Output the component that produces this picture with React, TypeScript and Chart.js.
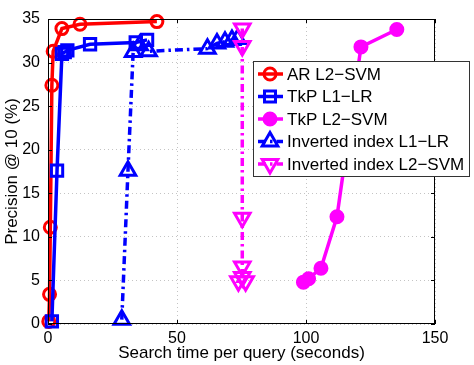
import React, { useEffect, useRef } from 'react';
import { Chart, registerables } from 'chart.js';

Chart.register(...registerables);

const FONT = "'Liberation Sans', Arial, Helvetica, sans-serif";

const seriesLabels = ['AR L2\u2212SVM', 'TkP L1\u2212LR', 'TkP L2\u2212SVM', 'Inverted index L1\u2212LR', 'Inverted index L2\u2212SVM'];

const arX = [0.3, 0.6, 0.9, 1.5, 2.0, 5.4, 12.4, 42.2];
const arY = [0.3, 3.4, 11.1, 27.4, 31.3, 33.9, 34.4, 34.7];

const tkL1X = [1.5, 3.5, 5.4, 6.5, 7.5, 16.3, 34.0, 38.4];
const tkL1Y = [0.3, 17.6, 31.0, 31.2, 31.4, 32.1, 32.3, 32.6];

const tkL2X = [99.0, 101.0, 105.8, 112.0, 121.3, 135.2];
const tkL2Y = [4.8, 5.2, 6.4, 12.3, 31.8, 33.8];

const invL1X = [28.6, 31.0, 33.0, 35.5, 39.0, 61.8, 65.5, 68.6, 71.3, 73.5];
const invL1Y = [0.5, 17.6, 31.2, 32.0, 31.3, 31.6, 32.2, 32.4, 32.6, 32.7];

const invL2X = [75.3, 75.3, 75.3, 75.3, 75.3, 73.8, 76.6];
const invL2Y = [33.9, 31.9, 12.2, 6.6, 5.4, 4.9, 4.9];

const xTicks = [0, 50, 100, 150];
const yTicks = [0, 5, 10, 15, 20, 25, 30, 35];

const RED = '#ff0000';
const BLUE = '#0000ff';
const MAG = '#ff00ff';
const DASHDOT = [8, 4, 2.5, 4];

type Style = { label: string; color: string; shape: string; fill: boolean; dash: number[] };
const legendStyles: Style[] = [
  { label: seriesLabels[0], color: RED, shape: 'circle', fill: false, dash: [] },
  { label: seriesLabels[1], color: BLUE, shape: 'square', fill: false, dash: [] },
  { label: seriesLabels[2], color: MAG, shape: 'circle', fill: true, dash: [] },
  { label: seriesLabels[3], color: BLUE, shape: 'tri', fill: false, dash: DASHDOT },
  { label: seriesLabels[4], color: MAG, shape: 'tridown', fill: false, dash: DASHDOT },
];

function drawMarker(ctx: CanvasRenderingContext2D, shape: string, x: number, y: number, color: string, fill: boolean) {
  ctx.save();
  ctx.setLineDash([]);
  ctx.strokeStyle = color;
  ctx.fillStyle = color;
  ctx.lineWidth = 3;
  ctx.beginPath();
  if (shape === 'circle') {
    ctx.arc(x, y, 6, 0, Math.PI * 2);
  } else if (shape === 'square') {
    ctx.rect(x - 5.5, y - 5.5, 11, 11);
  } else if (shape === 'tri') {
    ctx.moveTo(x, y - 9);
    ctx.lineTo(x + 7.8, y + 4.5);
    ctx.lineTo(x - 7.8, y + 4.5);
    ctx.closePath();
  } else {
    ctx.moveTo(x, y + 9);
    ctx.lineTo(x + 7.8, y - 4.5);
    ctx.lineTo(x - 7.8, y - 4.5);
    ctx.closePath();
  }
  if (fill) ctx.fill();
  ctx.stroke();
  ctx.restore();
}

const framePlugin = {
  id: 'frameLegend',
  afterDraw(chart: any) {
    const { ctx, chartArea } = chart;
    const { left, right, top, bottom } = chartArea;
    const xs = chart.scales.x;
    const ys = chart.scales.y;
    ctx.save();
    ctx.strokeStyle = '#000';
    ctx.lineWidth = 1;
    ctx.setLineDash([]);
    ctx.strokeRect(left + 0.5, top + 0.5, right - left - 1, bottom - top - 1);
    ctx.beginPath();
    for (const v of xTicks) {
      const px = Math.round(xs.getPixelForValue(v)) + 0.5;
      ctx.moveTo(px, bottom); ctx.lineTo(px, bottom - 4);
      ctx.moveTo(px, top); ctx.lineTo(px, top + 4);
    }
    for (const v of yTicks) {
      const py = Math.round(ys.getPixelForValue(v)) + 0.5;
      ctx.moveTo(left, py); ctx.lineTo(left + 4, py);
      ctx.moveTo(right, py); ctx.lineTo(right - 4, py);
    }
    ctx.stroke();

    const bx = 253, by = 61, bw = 216, bh = 115;
    ctx.fillStyle = '#fff';
    ctx.fillRect(bx, by, bw, bh);
    ctx.strokeStyle = '#333';
    ctx.strokeRect(bx + 0.5, by + 0.5, bw, bh);
    ctx.font = `17px ${FONT}`;
    ctx.textBaseline = 'middle';
    ctx.textAlign = 'left';
    legendStyles.forEach((s, i) => {
      const cy = 74 + i * 22.5;
      ctx.save();
      ctx.strokeStyle = s.color;
      ctx.lineWidth = 3.5;
      ctx.setLineDash(s.dash);
      ctx.beginPath();
      ctx.moveTo(258, cy);
      ctx.lineTo(283, cy);
      ctx.stroke();
      ctx.restore();
      drawMarker(ctx, s.shape, 270, cy, s.color, s.fill);
      ctx.fillStyle = '#000';
      ctx.fillText(s.label, 287, cy + 1);
    });
    ctx.restore();
  },
};

function pts(xs: number[], ys: number[]) {
  return xs.map((x, i) => ({ x, y: ys[i] }));
}

export default function App() {
  const ref = useRef<HTMLCanvasElement | null>(null);
  useEffect(() => {
    if (!ref.current) return;
    const common = { showLine: true, borderWidth: 3.5, pointBorderWidth: 3, clip: false as any };
    const chart = new Chart(ref.current, {
      type: 'scatter',
      data: {
        datasets: [
          { ...common, label: seriesLabels[0], data: pts(arX, arY), borderColor: RED, backgroundColor: 'rgba(0,0,0,0)', pointBorderColor: RED, pointBackgroundColor: 'rgba(0,0,0,0)', pointStyle: 'circle', pointRadius: 6, order: 4 },
          { ...common, label: seriesLabels[1], data: pts(tkL1X, tkL1Y), borderColor: BLUE, backgroundColor: 'rgba(0,0,0,0)', pointBorderColor: BLUE, pointBackgroundColor: 'rgba(0,0,0,0)', pointStyle: 'rect', pointRadius: 8, order: 3 },
          { ...common, label: seriesLabels[2], data: pts(tkL2X, tkL2Y), borderColor: MAG, backgroundColor: MAG, pointBorderColor: MAG, pointBackgroundColor: MAG, pointStyle: 'circle', pointRadius: 6, order: 2 },
          { ...common, label: seriesLabels[3], data: pts(invL1X, invL1Y), borderColor: BLUE, borderDash: DASHDOT, backgroundColor: 'rgba(0,0,0,0)', pointBorderColor: BLUE, pointBackgroundColor: 'rgba(0,0,0,0)', pointStyle: 'triangle', pointRadius: 9, order: 1 },
          { ...common, label: seriesLabels[4], data: pts(invL2X, invL2Y), borderColor: MAG, borderDash: DASHDOT, backgroundColor: 'rgba(0,0,0,0)', pointBorderColor: MAG, pointBackgroundColor: 'rgba(0,0,0,0)', pointStyle: 'triangle', pointRotation: 180, pointRadius: 9, order: 0 },
        ] as any,
      },
      options: {
        responsive: false,
        animation: false,
        layout: { padding: { left: 0, top: 19, right: 39, bottom: 0 } },
        plugins: { legend: { display: false }, tooltip: { enabled: false } },
        scales: {
          x: {
            type: 'linear',
            min: 0,
            max: 150,
            afterBuildTicks: (s: any) => { s.ticks = xTicks.map((v) => ({ value: v })); },
            afterFit: (s: any) => { s.height = 41; },
            grid: { color: '#c4c4c4', lineWidth: 1, drawTicks: false },
            border: { display: false, dash: [1, 3] },
            ticks: { color: '#000', font: { family: FONT, size: 16 }, padding: 5, maxRotation: 0 },
            title: { display: true, text: 'Search time per query (seconds)', color: '#000', font: { family: FONT, size: 17 }, padding: { top: 0, bottom: 1 } },
          },
          y: {
            type: 'linear',
            min: 0,
            max: 35,
            afterBuildTicks: (s: any) => { s.ticks = yTicks.map((v) => ({ value: v })); },
            afterFit: (s: any) => { s.width = 48; },
            grid: { color: '#c4c4c4', lineWidth: 1, drawTicks: false },
            border: { display: false, dash: [1, 3] },
            ticks: { color: '#000', font: { family: FONT, size: 16 }, padding: 8 },
            title: { display: true, text: 'Precision @ 10 (%)', color: '#000', font: { family: FONT, size: 17 }, padding: { top: 2, bottom: 0 } },
          },
        },
      } as any,
      plugins: [framePlugin],
    });
    return () => chart.destroy();
  }, []);
  return (
    <div style={{ position: 'absolute', left: 0, top: 0, width: 474, height: 365, background: '#fff' }}>
      <canvas ref={ref} width={474} height={365} style={{ display: 'block' }} />
    </div>
  );
}
